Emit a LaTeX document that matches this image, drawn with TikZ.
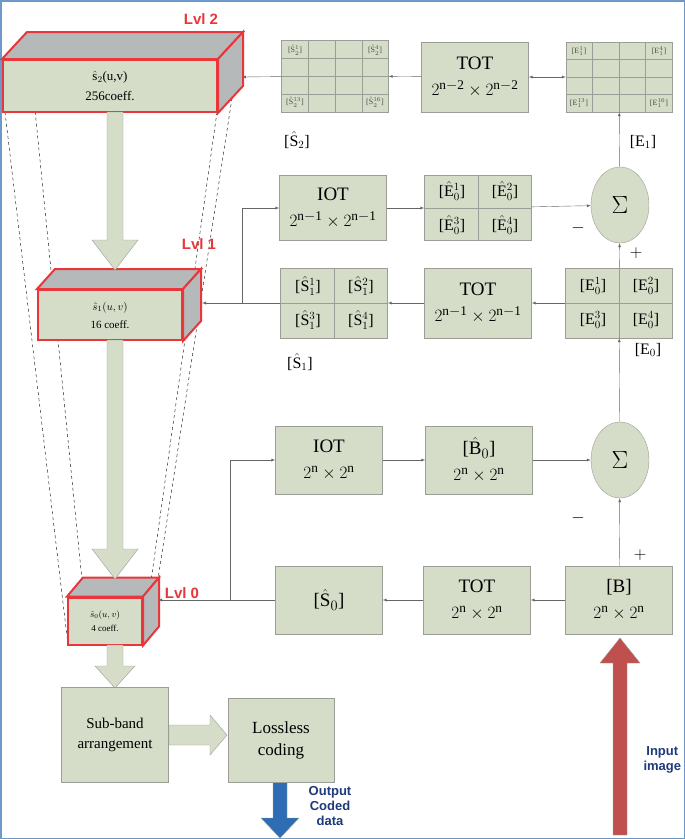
\documentclass[tikz,border=0pt]{standalone}
\usepackage{fontspec}
\setmainfont{Liberation Serif}
\newfontfamily\lblfont{Liberation Sans}
\usetikzlibrary{shapes,arrows,positioning,calc}
\definecolor{boxfill}{HTML}{D5DDC8}
\definecolor{boxline}{HTML}{9A9E96}
\definecolor{cubered}{HTML}{E8363A}
\definecolor{cubegray}{HTML}{B5B9B9}
\definecolor{navy}{HTML}{1F3A7A}
\definecolor{inblue}{HTML}{2E6DB4}
\definecolor{inred}{HTML}{C0504D}
\tikzstyle{block} = [rectangle, draw=boxline, fill=boxfill, minimum width=107pt, minimum height=68pt, align=center, inner sep=1pt, font=\fontsize{19}{24}\selectfont]
\tikzstyle{grid} = [rectangle, draw=boxline, fill=boxfill, minimum width=107pt, minimum height=70pt, inner sep=0pt]
\tikzstyle{sum} = [ellipse, draw=boxline, fill=boxfill, minimum width=58pt, minimum height=76pt, inner sep=0pt, font=\fontsize{24}{24}\selectfont]
\tikzstyle{line} = [draw=black!60, -latex, thin]
\tikzstyle{face} = [draw=cubered, line width=2pt, fill=boxfill, align=center, inner sep=0pt]
\tikzstyle{lvl} = [text=cubered, font=\lblfont\bfseries\fontsize{15}{15}\selectfont]
\tikzstyle{note} = [text=navy, align=center, font=\lblfont\bfseries\fontsize{13}{15}\selectfont]
\tikzstyle{sign} = [font=\fontsize{16}{16}\selectfont]
\tikzstyle{cell} = [font=\fontsize{16}{16}\selectfont, inner sep=1pt]
\tikzstyle{tiny} = [font=\fontsize{8}{8}\selectfont, text=black!70, inner sep=0.5pt]
% back faces of a cube
\newcommand{\cubeback}[3]{
  \draw[cubered, line width=2pt, fill=cubegray] (#1.north west) -- ++(#2,-#3) -- ([shift={(#2,-#3)}]#1.north east) -- (#1.north east) -- cycle;
  \draw[cubered, line width=2pt, fill=cubegray] (#1.north east) -- ([shift={(#2,-#3)}]#1.north east) -- ([shift={(#2,-#3)}]#1.south east) -- (#1.south east) -- cycle;
}
% fat vertical arrow: colour, x, start, tip, half shaft, half head, head length
\newcommand{\vfat}[7]{
  \draw[draw=boxline, fill=#1] ({#2-#5},#3) -- ({#2-#5},{#4-#7}) -- ({#2-#6},{#4-#7}) -- (#2,#4) -- ({#2+#6},{#4-#7}) -- ({#2+#5},{#4-#7}) -- ({#2+#5},#3) -- cycle;
}
\begin{document}
\begin{tikzpicture}[x=1pt, y=-1pt]
      \useasboundingbox (0,0) rectangle (685,839);
      \draw[inblue!70, line width=1.5pt] (0.75,0.75) rectangle (684.25,838.25);

      % dashed pyramid
      \draw[dashed, thin] (5,112) -- (68,645);
      \draw[dashed, thin] (28,40) -- (84,600);
      \draw[dashed, thin] (217,112) -- (142,645);
      \draw[dashed, thin] (242,33) -- (158,579);

      % level cubes
      \node [face, minimum width=214pt, minimum height=52pt, font=\fontsize{13}{20}\selectfont] (lvl2) at (110,86) {$\hat{\mathrm{s}}_2$(u,v)\\256coeff.};
      \cubeback{lvl2}{25}{27}
      \node [face, minimum width=144pt, minimum height=50pt, font=\fontsize{11}{18}\selectfont] (lvl1) at (110,315) {$\hat{s}_1(u,v)$\\16 coeff.};
      \cubeback{lvl1}{18}{20}
      \node [face, minimum width=74pt, minimum height=47pt, font=\fontsize{9}{14}\selectfont] (lvl0) at (105,621) {$\hat{s}_0(u,v)$\\4 coeff.};
      \cubeback{lvl0}{16}{19}
      \node [lvl] at (201,19) {Lvl 2};
      \node [lvl] at (199,244) {Lvl 1};
      \node [lvl] at (182,593) {Lvl 0};

      % fat arrows
      \vfat{boxfill}{115}{112}{270}{8}{23}{30}
      \vfat{boxfill}{115}{340}{579}{8}{23}{30}
      \vfat{boxfill}{115}{645}{688}{8}{20}{22}
      \draw[draw=boxline, fill=boxfill] (169,725) -- (210,725) -- (210,715) -- (227,735) -- (210,755) -- (210,745) -- (169,745) -- cycle;
      \vfat{inblue}{280}{782}{838}{7}{19}{20}
      \vfat{inred}{620}{835}{638}{7}{20}{-25}

      % coding blocks
      \node [block, minimum height=95pt, font=\fontsize{15}{20}\selectfont] (sub) at (115,735) {Sub-band\\arrangement};
      \node [block, minimum width=106pt, minimum height=84pt, font=\fontsize{17}{22}\selectfont] (lossless) at (281,740) {Lossless\\coding};
      \node [note] at (330,806) {Output\\Coded\\data};
      \node [note, anchor=west] at (640,760) {Input\\image};

      % level 0 row
      \node [block] (iot0) at (329,460) {IOT\\[2pt]$2^{\mathrm{n}}\times2^{\mathrm{n}}$};
      \node [block] (b0) at (479,460) {[$\hat{\mathrm{B}}_0$]\\[2pt]$2^{\mathrm{n}}\times2^{\mathrm{n}}$};
      \node [sum] (sum0) at (620,460) {$\Sigma$};
      \node [block] (s0) at (329,600) {[$\hat{\mathrm{S}}_0$]};
      \node [block] (tot0) at (477,600) {TOT\\[2pt]$2^{\mathrm{n}}\times2^{\mathrm{n}}$};
      \node [block] (b) at (619,600) {[B]\\[2pt]$2^{\mathrm{n}}\times2^{\mathrm{n}}$};
      \node [sign] at (578,518) {$-$};
      \node [sign] at (640,555) {$+$};

      % level 1 row
      \node [block, minimum height=65pt] (iot1) at (333,208) {IOT\\[2pt]$2^{\mathrm{n-1}}\times2^{\mathrm{n-1}}$};
      \node [grid, minimum height=65pt] (ehat0) at (478,208) {};
      \node [sum] (sum1) at (620,205) {$\Sigma$};
      \node [grid] (s1) at (334,303) {};
      \node [block, minimum height=70pt] (tot1) at (478,303) {TOT\\[2pt]$2^{\mathrm{n-1}}\times2^{\mathrm{n-1}}$};
      \node [grid] (e0) at (619,303) {};
      \node [sign] at (578,228) {$-$};
      \node [sign] at (636,253) {$+$};
      \node [cell] at (300,362) {[$\hat{\mathrm{S}}_1$]};
      \node [cell] at (648,350) {[E$_0$]};

      % level 2 row
      \node [grid, minimum height=72pt] (s2) at (335,76) {};
      \node [block, minimum height=70pt] (tot2) at (475,77) {TOT\\[2pt]$2^{\mathrm{n-2}}\times2^{\mathrm{n-2}}$};
      \node [grid, minimum width=106pt] (e1) at (619,77) {};
      \node [cell] at (297,140) {[$\hat{\mathrm{S}}_2$]};
      \node [cell] at (643,142) {[E$_1$]};

      % 2x2 grids
      \foreach \g/\a/\b/\c/\d in {ehat0/\hat{\mathrm{E}}_0^1/\hat{\mathrm{E}}_0^2/\hat{\mathrm{E}}_0^3/\hat{\mathrm{E}}_0^4,
                                  s1/\hat{\mathrm{S}}_1^1/\hat{\mathrm{S}}_1^2/\hat{\mathrm{S}}_1^3/\hat{\mathrm{S}}_1^4,
                                  e0/\mathrm{E}_0^1/\mathrm{E}_0^2/\mathrm{E}_0^3/\mathrm{E}_0^4} {
        \draw[boxline] (\g.north) -- (\g.south) (\g.west) -- (\g.east);
        \node [cell] at ([shift={(-26,-17)}]\g.center) {[$\a$]};
        \node [cell] at ([shift={(27,-17)}]\g.center) {[$\b$]};
        \node [cell] at ([shift={(-26,17)}]\g.center) {[$\c$]};
        \node [cell] at ([shift={(27,17)}]\g.center) {[$\d$]};
      }
      % 4x4 grids
      \foreach \g/\p in {s2/\hat{\mathrm{S}}_2, e1/\mathrm{E}_1} {
        \foreach \f in {0.25,0.5,0.75} {
          \draw[boxline] ($(\g.north west)!\f!(\g.north east)$) -- ($(\g.south west)!\f!(\g.south east)$);
          \draw[boxline] ($(\g.north west)!\f!(\g.south west)$) -- ($(\g.north east)!\f!(\g.south east)$);
        }
        \node [tiny] at ([shift={(-40,-26)}]\g.center) {[$\p^{1}$]};
        \node [tiny] at ([shift={(40,-26)}]\g.center) {[$\p^{4}$]};
        \node [tiny] at ([shift={(-40,26)}]\g.center) {[$\p^{13}$]};
        \node [tiny] at ([shift={(40,26)}]\g.center) {[$\p^{16}$]};
      }

      % draw edges
      \coordinate (in2) at (242,77);
      \coordinate (in1) at (202,303);
      \coordinate (in0) at (158,600);
      \coordinate (br1) at (242,303);
      \coordinate (br0) at (230,600);
      \path [line] (b) -- (tot0);
      \path [line] (tot0) -- (s0);
      \path [line] (s0) -- (in0);
      \path [line] (br0) |- (iot0);
      \path [line] (iot0) -- (b0);
      \path [line] (b0) -- (sum0);
      \path [line] (b) -- (sum0);
      \path [line] (sum0) -- (e0);
      \path [line] (e0) -- (tot1);
      \path [line] (tot1) -- (s1);
      \path [line] (s1) -- (in1);
      \path [line] (br1) |- (iot1);
      \path [line] (iot1) -- (ehat0);
      \path [line] (ehat0) -- (sum1);
      \path [line] (e0) -- (sum1);
      \path [line] (sum1) -- (e1);
      \path [draw=black!60, latex-latex, thin] (tot2) -- (e1);
      \path [line] (tot2) -- (s2);
      \path [line] (s2) -- (in2);
    \end{tikzpicture}
\end{document}
